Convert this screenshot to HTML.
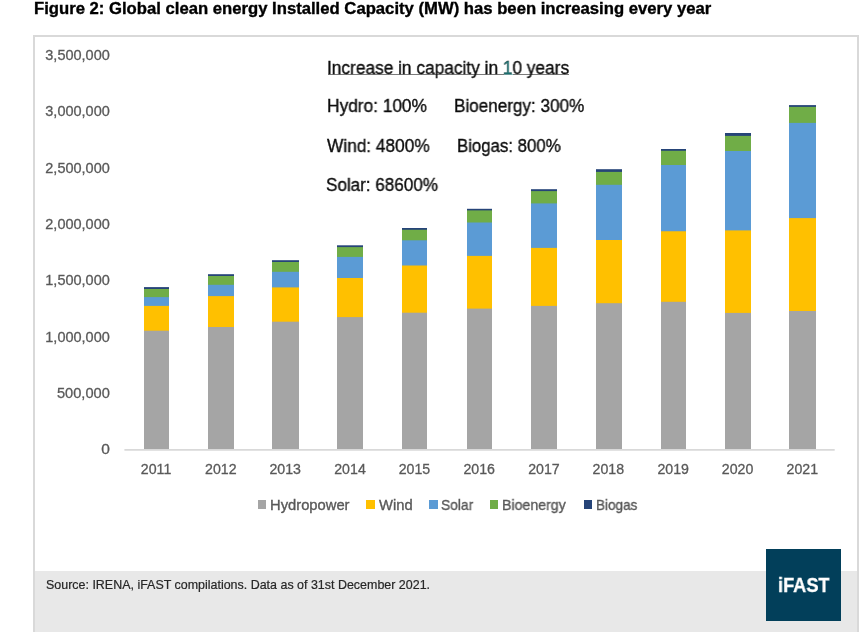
<!DOCTYPE html>
<html><head><meta charset="utf-8"><style>
html,body{margin:0;padding:0;background:#fff;}
body{width:863px;height:632px;position:relative;overflow:hidden;font-family:"Liberation Sans",sans-serif;}
.t{position:absolute;white-space:nowrap;transform-origin:0 0;line-height:1;will-change:transform;}
.b{position:absolute;}
.sq{position:absolute;}
svg{position:absolute;left:0;top:0;will-change:transform;}
</style></head><body>
<div class="b" style="left:33px;top:35px;width:822px;height:700px;border:2px solid #d9d9d9;"></div>
<div class="b" style="left:35px;top:571px;width:822px;height:100px;background:#e8e8e8;"></div>
<svg width="863" height="632" viewBox="0 0 863 632">
<g font-family="Liberation Sans" font-size="14.6" fill="#595959" stroke="#595959" stroke-width="0.3">
<text x="109.82" y="454.46" text-anchor="end" transform="translate(109.82 0) scale(1.0631 1) translate(-109.82 0)">0</text><text x="109.82" y="398.08" text-anchor="end" transform="translate(109.82 0) scale(1.0022 1) translate(-109.82 0)">500,000</text><text x="109.82" y="341.70" text-anchor="end" transform="translate(109.82 0) scale(0.9940 1) translate(-109.82 0)">1,000,000</text><text x="109.82" y="285.32" text-anchor="end" transform="translate(109.82 0) scale(0.9940 1) translate(-109.82 0)">1,500,000</text><text x="109.82" y="228.94" text-anchor="end" transform="translate(109.82 0) scale(0.9940 1) translate(-109.82 0)">2,000,000</text><text x="109.82" y="172.56" text-anchor="end" transform="translate(109.82 0) scale(0.9940 1) translate(-109.82 0)">2,500,000</text><text x="109.82" y="116.18" text-anchor="end" transform="translate(109.82 0) scale(0.9940 1) translate(-109.82 0)">3,000,000</text><text x="109.82" y="59.80" text-anchor="end" transform="translate(109.82 0) scale(0.9940 1) translate(-109.82 0)">3,500,000</text><text x="156.05" y="473.96" text-anchor="middle" transform="translate(156.05 0) scale(0.9720 1) translate(-156.05 0)">2011</text><text x="220.84" y="473.96" text-anchor="middle" transform="translate(220.84 0) scale(0.9720 1) translate(-220.84 0)">2012</text><text x="285.22" y="473.96" text-anchor="middle" transform="translate(285.22 0) scale(0.9720 1) translate(-285.22 0)">2013</text><text x="350.01" y="473.96" text-anchor="middle" transform="translate(350.01 0) scale(0.9720 1) translate(-350.01 0)">2014</text><text x="414.40" y="473.96" text-anchor="middle" transform="translate(414.40 0) scale(0.9720 1) translate(-414.40 0)">2015</text><text x="479.19" y="473.96" text-anchor="middle" transform="translate(479.19 0) scale(0.9720 1) translate(-479.19 0)">2016</text><text x="543.98" y="473.96" text-anchor="middle" transform="translate(543.98 0) scale(0.9720 1) translate(-543.98 0)">2017</text><text x="608.37" y="473.96" text-anchor="middle" transform="translate(608.37 0) scale(0.9720 1) translate(-608.37 0)">2018</text><text x="673.16" y="473.96" text-anchor="middle" transform="translate(673.16 0) scale(0.9720 1) translate(-673.16 0)">2019</text><text x="737.54" y="473.96" text-anchor="middle" transform="translate(737.54 0) scale(0.9720 1) translate(-737.54 0)">2020</text><text x="802.33" y="473.96" text-anchor="middle" transform="translate(802.33 0) scale(0.9720 1) translate(-802.33 0)">2021</text>
</g>
<rect x="124.4" y="449" width="710.3" height="1.75" fill="#d9d9d9"/>
<rect x="144" y="287.10" width="25" height="161.90" fill="#264478"/><rect x="144" y="289.00" width="25" height="160.00" fill="#70ad47"/><rect x="144" y="297.10" width="25" height="151.90" fill="#5b9bd5"/><rect x="144" y="305.90" width="25" height="143.10" fill="#ffc000"/><rect x="144" y="330.70" width="25" height="118.30" fill="#a5a5a5"/><rect x="208" y="274.20" width="26" height="174.80" fill="#264478"/><rect x="208" y="276.00" width="26" height="173.00" fill="#70ad47"/><rect x="208" y="284.80" width="26" height="164.20" fill="#5b9bd5"/><rect x="208" y="296.10" width="26" height="152.90" fill="#ffc000"/><rect x="208" y="327.00" width="26" height="122.00" fill="#a5a5a5"/><rect x="272" y="260.20" width="27" height="188.80" fill="#264478"/><rect x="272" y="262.00" width="27" height="187.00" fill="#70ad47"/><rect x="272" y="271.80" width="27" height="177.20" fill="#5b9bd5"/><rect x="272" y="287.40" width="27" height="161.60" fill="#ffc000"/><rect x="272" y="321.70" width="27" height="127.30" fill="#a5a5a5"/><rect x="337" y="245.30" width="26" height="203.70" fill="#264478"/><rect x="337" y="247.10" width="26" height="201.90" fill="#70ad47"/><rect x="337" y="256.90" width="26" height="192.10" fill="#5b9bd5"/><rect x="337" y="278.00" width="26" height="171.00" fill="#ffc000"/><rect x="337" y="317.10" width="26" height="131.90" fill="#a5a5a5"/><rect x="402" y="228.00" width="25" height="221.00" fill="#264478"/><rect x="402" y="229.80" width="25" height="219.20" fill="#70ad47"/><rect x="402" y="240.30" width="25" height="208.70" fill="#5b9bd5"/><rect x="402" y="265.50" width="25" height="183.50" fill="#ffc000"/><rect x="402" y="312.70" width="25" height="136.30" fill="#a5a5a5"/><rect x="467" y="208.80" width="25" height="240.20" fill="#264478"/><rect x="467" y="210.40" width="25" height="238.60" fill="#70ad47"/><rect x="467" y="222.50" width="25" height="226.50" fill="#5b9bd5"/><rect x="467" y="255.90" width="25" height="193.10" fill="#ffc000"/><rect x="467" y="308.60" width="25" height="140.40" fill="#a5a5a5"/><rect x="531" y="189.20" width="26" height="259.80" fill="#264478"/><rect x="531" y="191.10" width="26" height="257.90" fill="#70ad47"/><rect x="531" y="203.40" width="26" height="245.60" fill="#5b9bd5"/><rect x="531" y="247.90" width="26" height="201.10" fill="#ffc000"/><rect x="531" y="305.90" width="26" height="143.10" fill="#a5a5a5"/><rect x="596" y="169.20" width="26" height="279.80" fill="#264478"/><rect x="596" y="171.90" width="26" height="277.10" fill="#70ad47"/><rect x="596" y="184.80" width="26" height="264.20" fill="#5b9bd5"/><rect x="596" y="240.00" width="26" height="209.00" fill="#ffc000"/><rect x="596" y="303.20" width="26" height="145.80" fill="#a5a5a5"/><rect x="661" y="149.00" width="25" height="300.00" fill="#264478"/><rect x="661" y="150.80" width="25" height="298.20" fill="#70ad47"/><rect x="661" y="165.00" width="25" height="284.00" fill="#5b9bd5"/><rect x="661" y="231.25" width="25" height="217.75" fill="#ffc000"/><rect x="661" y="301.80" width="25" height="147.20" fill="#a5a5a5"/><rect x="725" y="133.00" width="26" height="316.00" fill="#264478"/><rect x="725" y="135.90" width="26" height="313.10" fill="#70ad47"/><rect x="725" y="151.00" width="26" height="298.00" fill="#5b9bd5"/><rect x="725" y="230.40" width="26" height="218.60" fill="#ffc000"/><rect x="725" y="312.90" width="26" height="136.10" fill="#a5a5a5"/><rect x="789" y="105.10" width="27" height="343.90" fill="#264478"/><rect x="789" y="106.90" width="27" height="342.10" fill="#70ad47"/><rect x="789" y="122.90" width="27" height="326.10" fill="#5b9bd5"/><rect x="789" y="218.10" width="27" height="230.90" fill="#ffc000"/><rect x="789" y="311.00" width="27" height="138.00" fill="#a5a5a5"/>
</svg>
<div class="sq" style="left:257.6px;top:500.4px;width:8.7px;height:8.7px;background:#a5a5a5"></div><div class="sq" style="left:365.9px;top:500.4px;width:8.7px;height:8.7px;background:#ffc000"></div><div class="sq" style="left:429.3px;top:500.4px;width:8.7px;height:8.7px;background:#5b9bd5"></div><div class="sq" style="left:489.8px;top:500.4px;width:8.7px;height:8.7px;background:#70ad47"></div><div class="sq" style="left:583.5px;top:500.4px;width:8.7px;height:8.7px;background:#264478"></div>
<div class="b" style="left:765.7px;top:548.5px;width:75.8px;height:72.7px;background:#023f5a;"></div>
<div class="b" style="left:327.6px;top:74px;width:241.9px;height:1.3px;background:#7a7a7a;"></div>
<div class="b" style="left:503.7px;top:74px;width:9.5px;height:1.3px;background:#8cc8c8;"></div>
<div class="t" style="left:33.96px;top:1.24px;font-size:16px;color:#000;transform:scaleX(1.0419);font-weight:bold;-webkit-text-stroke:0.35px #000;">Figure 2: Global clean energy Installed Capacity (MW) has been increasing every year</div><div class="t" style="left:326.61px;top:59.88px;font-size:17.5px;color:#0d0d0d;transform:scaleX(0.9877);-webkit-text-stroke:0.35px #0d0d0d;">Increase in capacity in <span style="color:#1f8f8f">1</span>0 years</div><div class="t" style="left:326.62px;top:97.60px;font-size:17.5px;color:#0d0d0d;transform:scaleX(0.9880);-webkit-text-stroke:0.35px #0d0d0d;">Hydro: 100%</div><div class="t" style="left:453.63px;top:97.76px;font-size:17.5px;color:#0d0d0d;transform:scaleX(0.9773);-webkit-text-stroke:0.35px #0d0d0d;">Bioenergy: 300%</div><div class="t" style="left:326.80px;top:138.04px;font-size:17.5px;color:#0d0d0d;transform:scaleX(0.9866);-webkit-text-stroke:0.35px #0d0d0d;">Wind: 4800%</div><div class="t" style="left:457.04px;top:138.04px;font-size:17.5px;color:#0d0d0d;transform:scaleX(0.9589);-webkit-text-stroke:0.35px #0d0d0d;">Biogas: 800%</div><div class="t" style="left:326.02px;top:177.04px;font-size:17.5px;color:#0d0d0d;transform:scaleX(0.9755);-webkit-text-stroke:0.35px #0d0d0d;">Solar: 68600%</div><div class="t" style="left:269.59px;top:497.50px;font-size:14.6px;color:#595959;transform:scaleX(1.0103);-webkit-text-stroke:0.35px #595959;">Hydropower</div><div class="t" style="left:379.01px;top:497.50px;font-size:14.6px;color:#595959;transform:scaleX(1.0127);-webkit-text-stroke:0.35px #595959;">Wind</div><div class="t" style="left:440.85px;top:497.50px;font-size:14.6px;color:#595959;transform:scaleX(0.9481);-webkit-text-stroke:0.35px #595959;">Solar</div><div class="t" style="left:502.43px;top:497.50px;font-size:14.6px;color:#595959;transform:scaleX(0.9694);-webkit-text-stroke:0.35px #595959;">Bioenergy</div><div class="t" style="left:595.50px;top:497.50px;font-size:14.6px;color:#595959;transform:scaleX(0.9268);-webkit-text-stroke:0.35px #595959;">Biogas</div><div class="t" style="left:46.00px;top:579.44px;font-size:12.4px;color:#262626;transform:scaleX(1.0053);-webkit-text-stroke:0.2px #262626;">Source: IRENA, iFAST compilations. Data as of 31st December 2021.</div><div class="t" style="left:778.39px;top:574.64px;font-size:20.5px;color:#fff;transform:scaleX(0.8871);font-weight:bold;-webkit-text-stroke:0.3px #fff;">iFAST</div>
</body></html>
